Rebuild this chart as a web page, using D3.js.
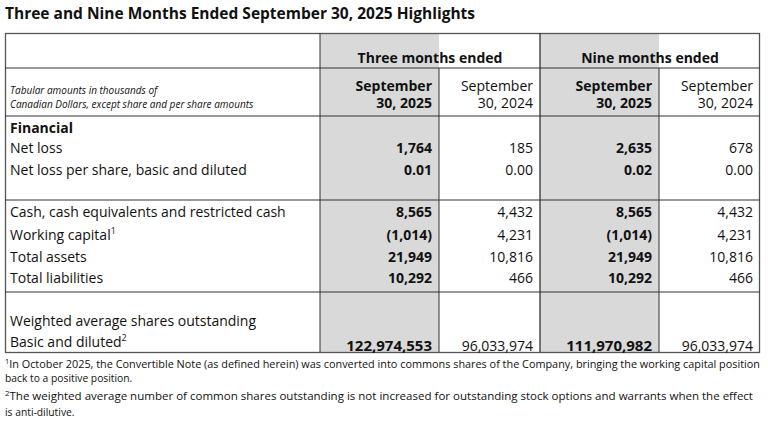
<!DOCTYPE html>
<html><head><meta charset="utf-8">
<script src="https://cdn.jsdelivr.net/npm/d3@7"></script>
<style>body{margin:0;background:#fff}text{font-family:"Open Sans","Noto Sans",sans-serif;fill:#111}</style>
</head><body><svg id="c" width="768" height="427"></svg>
<script>
const rowLabels=["Net loss","Net loss per share, basic and diluted","Cash, cash equivalents and restricted cash","Working capital","Total assets","Total liabilities","Basic and diluted"];
const rowSup=["","","","1","","","2"];
const rowY=[148,170,212,235,257,278,342];
const three2025=["1,764","0.01","8,565","(1,014)","21,949","10,292","122,974,553"];
const three2024=["185","0.00","4,432","4,231","10,816","466","96,033,974"];
const nine2025=["2,635","0.02","8,565","(1,014)","21,949","10,292","111,970,982"];
const nine2024=["678","0.00","4,432","4,231","10,816","466","96,033,974"];
const colEdges=[5,320,439,540,659,760];
const footnotes=[["1","In October 2025, the Convertible Note (as defined herein) was converted into commons shares of the Company, bringing the working capital position"],["","back to a positive position."],["2","The weighted average number of common shares outstanding is not increased for outstanding stock options and warrants when the effect"],["","is anti-dilutive."]];
const footY=[368,382,400,416];

const svg=d3.select("#c");
svg.append("text").attr("x",5).attr("y",19).attr("font-size",15.5).attr("font-weight",700).text("Three and Nine Months Ended September 30, 2025 Highlights");
const tY=33,bY=352;
[1,3].forEach(i=>svg.append("rect").attr("x",colEdges[i]).attr("y",tY).attr("width",colEdges[i+1]-colEdges[i]).attr("height",bY-tY).attr("fill","#d9d9d9"));
const line=(x1,y1,x2,y2,w)=>svg.append("line").attr("x1",x1).attr("y1",y1).attr("x2",x2).attr("y2",y2).attr("stroke","#333").attr("stroke-width",w||1);
svg.append("rect").attr("x",5.5).attr("y",tY+.5).attr("width",754).attr("height",bY-tY).attr("fill","none").attr("stroke","#555").attr("stroke-width",1.3);
[68,116,200,292].forEach(y=>line(5,y,760,y));
line(320,tY,320,bY);line(540,tY,540,bY,1.3);line(439,68,439,bY);line(659,68,659,bY);
[["Three months ended",380],["Nine months ended",600]].forEach(([t,x])=>svg.append("text").attr("x",x+50).attr("y",63).attr("text-anchor","middle").attr("font-size",14).attr("font-weight",700).text(t));
svg.append("text").attr("x",10).attr("y",94).attr("font-size",10).attr("font-style","italic").text("Tabular amounts in thousands of");
svg.append("text").attr("x",10).attr("y",108).attr("font-size",10).attr("font-style","italic").text("Canadian Dollars, except share and per share amounts");
const heads=[["September","30, 2025",true],["September","30, 2024",false],["September","30, 2025",true],["September","30, 2024",false]];
heads.forEach((h,i)=>{const xr=colEdges[i+2]-7;
 svg.append("text").attr("x",xr).attr("y",91).attr("text-anchor","end").attr("font-size",14).attr("font-weight",h[2]?700:400).text(h[0]);
 svg.append("text").attr("x",xr).attr("y",108).attr("text-anchor","end").attr("font-size",14).attr("font-weight",h[2]?700:400).text(h[1]);});
svg.append("text").attr("x",10).attr("y",133).attr("font-size",14).attr("font-weight",700).text("Financial");
svg.append("text").attr("x",10).attr("y",326).attr("font-size",14).text("Weighted average shares outstanding");
rowLabels.forEach((l,i)=>{const t=svg.append("text").attr("x",10).attr("y",rowY[i]+5).attr("font-size",14).text(l);
 if(rowSup[i])t.append("tspan").attr("dy",-6).attr("font-size",9).text(rowSup[i]);});
[three2025,three2024,nine2025,nine2024].forEach((arr,c)=>{arr.forEach((v,i)=>svg.append("text").attr("x",colEdges[c+2]-7).attr("y",rowY[i]+5+(i==6?4:0)).attr("text-anchor","end").attr("font-size",i==6&&c%2==0?15:14).attr("font-weight",c%2==0?700:400).text(v));});
footnotes.forEach((f,i)=>{const t=svg.append("text").attr("x",5).attr("y",footY[i]).attr("font-size",10.3);
 if(f[1].length>60)t.attr("textLength",i==0?755:748).attr("lengthAdjust","spacingAndGlyphs");
 if(f[0])t.append("tspan").attr("font-size",7).attr("dy",-4).text(f[0]);
 t.append("tspan").attr("dy",f[0]?4:0).text(f[1]);});
</script></body></html>
